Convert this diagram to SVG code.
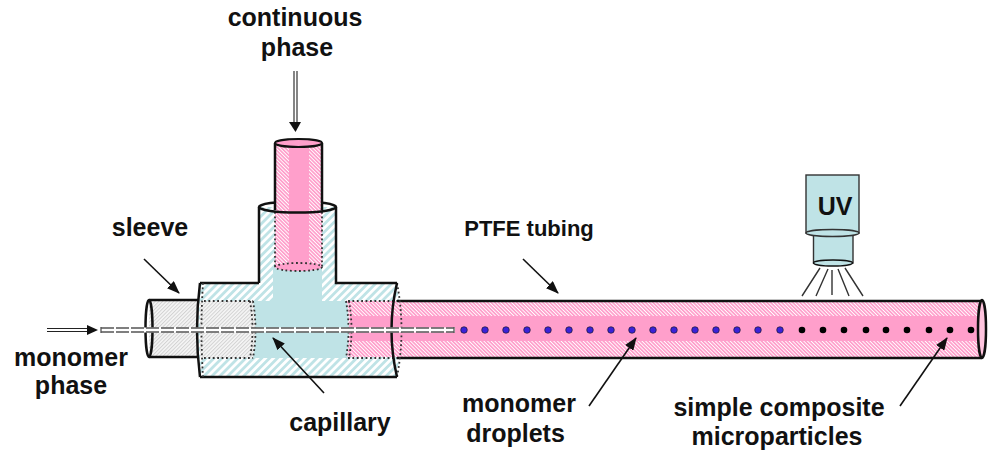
<svg xmlns="http://www.w3.org/2000/svg" width="1000" height="460" viewBox="0 0 1000 460">
<style>
text{font-family:"Liberation Sans",Arial,sans-serif;font-weight:bold;font-size:25px;fill:#111;text-anchor:middle}
.o{fill:none;stroke:#111;stroke-width:2.5}
.d{fill:none;stroke:#333;stroke-width:1.800;stroke-dasharray:1.800 2.600}
.a{stroke:#111;stroke-width:1.600;fill:none;marker-end:url(#ah)}
.r{stroke:#333;stroke-width:1.400;fill:none}
.b{fill:#3a22d8;stroke:#111;stroke-width:.6;r:3.300px}
.k{fill:#000;r:3.300px}
</style>
<defs>
<marker id="ah" markerWidth="14" markerHeight="10" refX="12" refY="5" orient="auto" markerUnits="userSpaceOnUse"><path d="M0 0L13 5L0 10Z" fill="#111"/></marker>
<pattern id="hp" width="2.600" height="2.600" patternUnits="userSpaceOnUse" patternTransform="rotate(-45)"><rect width="2.600" height="2.600" fill="#fff"/><rect width="1.700" height="2.600" fill="#ff9fcb"/></pattern>
<pattern id="hb" width="5.600" height="5.600" patternUnits="userSpaceOnUse" patternTransform="rotate(45)"><rect width="5.600" height="5.600" fill="#fff"/><rect width="2.800" height="5.600" fill="#bfe3e6"/></pattern>
<pattern id="hg" width="2.600" height="2.600" patternUnits="userSpaceOnUse" patternTransform="rotate(45)"><rect width="2.600" height="2.600" fill="#f6f6f6"/><rect width="1" height="2.600" fill="#d2d2d2"/></pattern>
</defs>
<g id="sleeve">
<rect x="149" y="300" width="104" height="57" fill="url(#hg)"/>
<path class="o" d="M149 300H200M149 357H200"/>
<ellipse class="o" cx="149" cy="328.500" rx="3.500" ry="28.500"/>
</g>
<g id="tee">
<path d="M200 283H259V207H336V283H397Q404 330 397 377H200Q196 330 200 283Z" fill="url(#hb)"/>
<path d="M251 301H273V267H322V301H348V358H251Z" fill="#bfe3e6"/>
<path d="M204 301H253Q258 330 253 358H204Q200 330 204 301Z" fill="url(#hg)"/>
<path d="M200 301H204V358H200Z" fill="url(#hg)"/>
<path class="o" d="M259 283V207M336 207V283H397M259 283H200M200 377H397"/>
<path class="o" d="M200 283Q194 330 200 377"/>
</g>
<g id="inlet-tube">
<path class="o" d="M259 207A38.500 5.500 0 0 1 336 207"/>
<rect x="275" y="143" width="47" height="124" fill="url(#hp)"/>
<rect x="289" y="143" width="20" height="124" fill="#ff9fcb"/>
<ellipse cx="298.500" cy="143" rx="23.500" ry="4" fill="#ff9fcb" stroke="#111" stroke-width="2.200"/>
<path class="o" d="M275 143V210M322 143V210"/>
<ellipse cx="298.500" cy="267" rx="23.500" ry="4" class="d" style="fill:#ff9fcb"/>
<path class="d" d="M275 212V267M322 212V267"/>
<path class="o" d="M259 207A38.500 5.500 0 0 0 336 207"/>
</g>
<g id="ptfe-tube">
<path d="M347 301H982V357H347Q351 330 347 301Z" fill="url(#hp)"/>
<rect x="350" y="316" width="632" height="25" fill="#ff9fcb"/>
<path class="o" d="M397 301H982M397 358H982"/>
<ellipse cx="982" cy="329" rx="4" ry="29" fill="#ffc4de" stroke="#111" stroke-width="2.500"/>
<path class="d" d="M346 301Q351 330 346 358M349 301Q354 330 349 358M250 301Q255 330 250 358M253 301Q258 330 253 358M204 301H253M204 358H253M203 283Q200 330 203 377M348 301H397M348 358H397M397 283Q406 330 397 377"/>
<path class="o" d="M397 283Q386 330 397 377"/>
</g>
<g id="capillary">
<rect x="101" y="327.500" width="354" height="5" fill="#fff"/>
<path d="M101 328H454M101 332H454" stroke="#555" stroke-width="1.300" stroke-dasharray="13 2" fill="none"/>
<path d="M101 327V333M454 327V333" stroke="#555" stroke-width="1.300"/>
</g>
<g id="droplets">
<circle class="b" cx="464" cy="330" r="3"/><circle class="b" cx="485" cy="330" r="3"/><circle class="b" cx="506" cy="330" r="3"/><circle class="b" cx="527" cy="330" r="3"/><circle class="b" cx="548" cy="330" r="3"/><circle class="b" cx="569" cy="330" r="3"/><circle class="b" cx="590" cy="330" r="3"/><circle class="b" cx="611" cy="330" r="3"/><circle class="b" cx="632" cy="330" r="3"/><circle class="b" cx="653" cy="330" r="3"/><circle class="b" cx="674" cy="330" r="3"/><circle class="b" cx="695" cy="330" r="3"/><circle class="b" cx="716" cy="330" r="3"/><circle class="b" cx="737" cy="330" r="3"/><circle class="b" cx="758" cy="330" r="3"/><circle class="b" cx="780" cy="330" r="3"/>
<circle class="k" cx="802" cy="330" r="3"/><circle class="k" cx="823" cy="330" r="3"/><circle class="k" cx="844" cy="330" r="3"/><circle class="k" cx="866" cy="330" r="3"/><circle class="k" cx="886" cy="330" r="3"/><circle class="k" cx="907" cy="330" r="3"/><circle class="k" cx="929" cy="330" r="3"/><circle class="k" cx="950" cy="330" r="3"/><circle class="k" cx="971" cy="330" r="3"/>
</g>
<g id="uv-lamp">
<rect x="813.500" y="233" width="39.500" height="30" fill="#bfe3e6" stroke="#333" stroke-width="1.400"/>
<ellipse cx="833" cy="263" rx="19.500" ry="3" fill="#bfe3e6" stroke="#111" stroke-width="1.400"/>
<rect x="806" y="175" width="53" height="58" fill="#bfe3e6" stroke="#333" stroke-width="1.400"/>
<ellipse cx="832.500" cy="233" rx="26.500" ry="3.500" fill="#bfe3e6" stroke="#333" stroke-width="1.400"/>
<text x="835" y="215">UV</text>
<path class="r" d="M820 268L802 296M828 269L816 296M832 270V295M838 269L849 296M845 268L863 296"/>
</g>
<g id="connectors">
<path d="M294 71V124M297 71V124" stroke="#222" stroke-width="1.100" fill="none"/>
<path d="M289 122H301L295.500 132Z" fill="#111"/>
<path class="a" d="M144 259L179 293"/>
<path class="a" d="M523 259L558 293"/>
<path class="a" d="M324 393L273 338"/>
<path class="a" d="M589 406L636 338"/>
<path class="a" d="M900 406L947 338"/>
<path d="M47 328.500H90M47 331.500H90" stroke="#222" stroke-width="1.100" fill="none"/>
<path d="M87 325L98 330L87 335Z" fill="#111"/>
</g>
<g id="labels">
<text x="295" y="26">continuous</text><text x="297" y="56">phase</text>
<text x="150" y="236">sleeve</text>
<text x="529" y="236" style="font-size:22px">PTFE tubing</text>
<text x="71" y="366">monomer</text><text x="71" y="394">phase</text>
<text x="340" y="431">capillary</text>
<text x="519" y="412">monomer</text><text x="515.500" y="442">droplets</text>
<text x="779" y="416">simple composite</text><text x="777" y="445">microparticles</text>
</g>
</svg>
